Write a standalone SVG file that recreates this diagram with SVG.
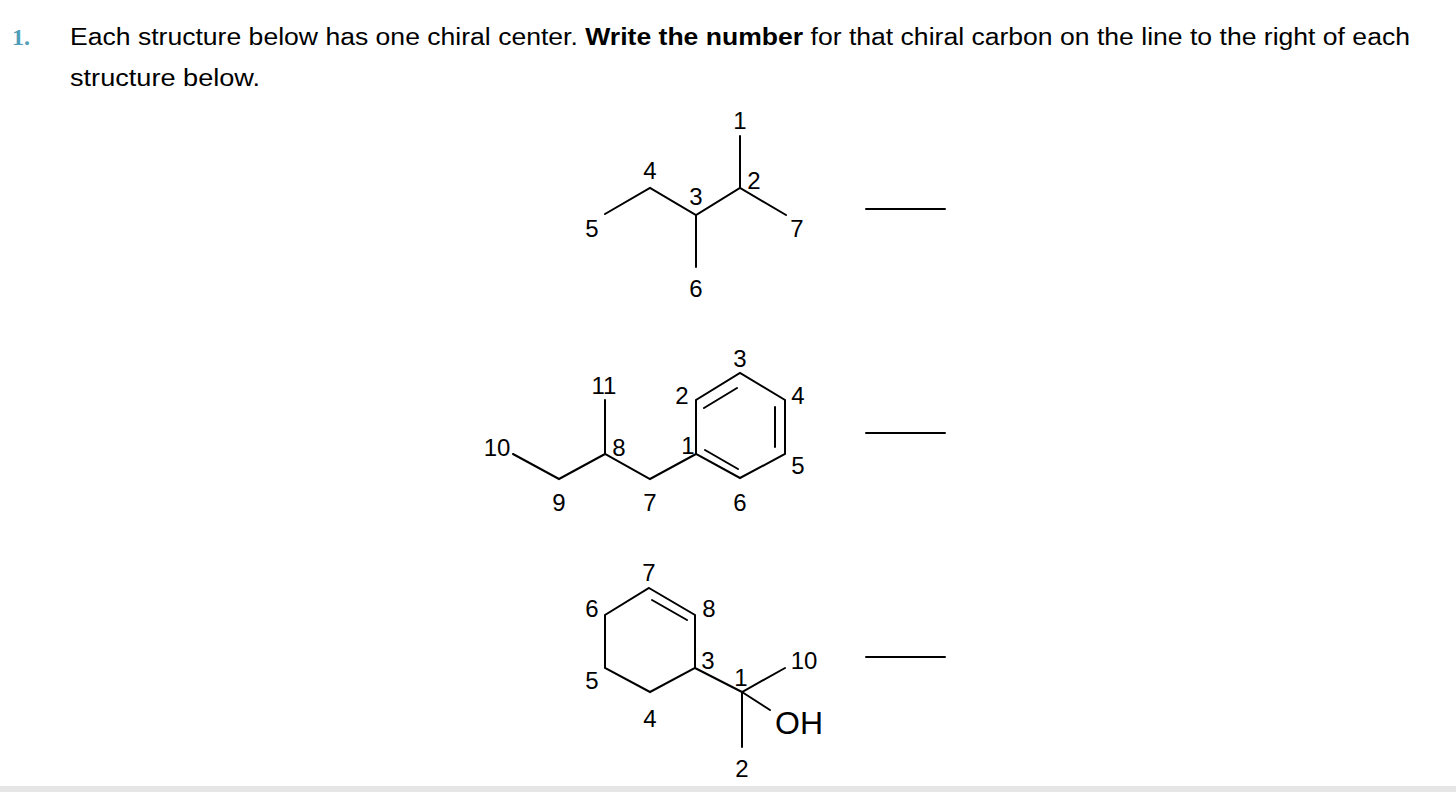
<svg xmlns="http://www.w3.org/2000/svg" width="1456" height="792" viewBox="0 0 1456 792">
<style>
.b{stroke:#000;stroke-width:2;fill:none;stroke-linecap:round}
.l{font-family:"Liberation Sans",Arial,sans-serif;font-size:24px;text-anchor:middle;fill:#000}
.h{font-family:"Liberation Sans",Arial,sans-serif;font-size:23px;fill:#000}
</style>
<rect width="1456" height="792" fill="#fff"/>
<rect y="786" width="1456" height="6" fill="#e6e6e6"/>
<text x="12" y="45" font-family="Liberation Serif,serif" font-weight="bold" font-size="24" fill="#4f9fb8">1.</text>
<text class="h" x="70" y="45" textLength="1340" lengthAdjust="spacingAndGlyphs">Each structure below has one chiral center.  <tspan font-weight="bold">Write the number</tspan> for that chiral carbon on the line to the right of each</text>
<text class="h" x="70" y="86" textLength="190" lengthAdjust="spacingAndGlyphs">structure below.</text>
<g id="connectors">
<path class="b" d="M866 209H945M866 433H945M866 657H945"/>
</g>
<g id="mol1">
<path class="b" d="M605 214L650 188L696 215L740 188L786 215M740 188V136M696 215V267"/>
<text class="l" x="740" y="129">1</text><text class="l" x="754" y="189">2</text><text class="l" x="696" y="205">3</text><text class="l" x="650" y="179">4</text><text class="l" x="592" y="237">5</text><text class="l" x="696" y="297">6</text><text class="l" x="797" y="237">7</text>
</g>
<g id="mol2">
<path class="b" d="M513 454L559 479L605 454L650 479L696 454M605 454V400M696 454V400L740 373L785 400V454L740 478Z"/>
<path class="b" d="M704 408L737 388M775 407V447M738 469L705 450"/>
<text class="l" x="497" y="456">10</text><text class="l" x="559" y="511">9</text><text class="l" x="619" y="456">8</text><text class="l" x="604" y="394">11</text><text class="l" x="650" y="511">7</text><text class="l" x="688" y="454">1</text><text class="l" x="682" y="404">2</text><text class="l" x="740" y="367">3</text><text class="l" x="798" y="404">4</text><text class="l" x="798" y="474">5</text><text class="l" x="740" y="511">6</text>
</g>
<g id="mol3">
<path class="b" d="M649 588L695 615V668L650 692L605 668V615ZM695 668L742 692L785 668M742 692L770 710M742 692V747"/>
<path class="b" d="M652 600L687 620"/>
<text class="l" x="649" y="581">7</text><text class="l" x="709" y="617">8</text><text class="l" x="708" y="669">3</text><text class="l" x="804" y="669">10</text><text class="l" x="741" y="686">1</text><text class="l" x="592" y="689">5</text><text class="l" x="592" y="617">6</text><text class="l" x="650" y="727">4</text><text class="l" x="742" y="777">2</text>
<text class="l" x="799" y="734" style="font-size:32px">OH</text>
</g>
</svg>
